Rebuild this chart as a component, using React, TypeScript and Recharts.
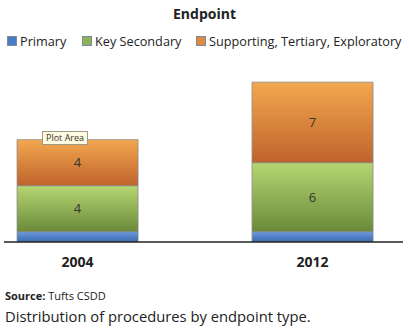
import { BarChart, Bar, XAxis, YAxis, LabelList } from "recharts";

const years = ["2004", "2012"];
const primary = [0.9, 0.9];
const keySecondary = [4, 6];
const supporting = [4, 7];

const seriesNames = ["Primary", "Key Secondary", "Supporting, Tertiary, Exploratory"];
const seriesKeys = ["primary", "keySecondary", "supporting"];
const swatchColors = ["#4a7cc4", "#8fb255", "#e08a3c"];
const legendLeft = [7, 82, 196];

const data = years.map((year, i) => ({
  year,
  pos: i,
  primary: primary[i],
  keySecondary: keySecondary[i],
  supporting: supporting[i],
}));

const font = "'Open Sans', 'Noto Sans', sans-serif";

// legend drawn as plain html so it doesn't eat into the plot height
const ChartLegend = () => (
  <>
    {seriesNames.map((name, i) => (
      <div
        key={seriesKeys[i]}
        style={{
          position: "absolute",
          top: 32,
          left: legendLeft[i],
          display: "flex",
          alignItems: "center",
          whiteSpace: "nowrap",
          fontSize: 12.7,
          color: "#222",
        }}
      >
        <span
          style={{
            width: 10,
            height: 10,
            background: swatchColors[i],
            border: "1px solid #7a8aa0",
            boxSizing: "border-box",
            marginRight: 3,
          }}
        />
        {name}
      </div>
    ))}
  </>
);

const App = () => {
  return (
    <div
      style={{
        position: "absolute",
        left: 0,
        top: 0,
        width: 409,
        height: 334,
        background: "#fff",
        fontFamily: font,
      }}
    >
      <BarChart
        width={409}
        height={334}
        data={data}
        margin={{ top: 81, right: 6, bottom: 62, left: 4 }}
      >
        <defs>
          <linearGradient id="gPrimary" x1="0" y1="0" x2="0" y2="1">
            <stop offset="0%" stopColor="#6a9ae0" />
            <stop offset="100%" stopColor="#3c69ad" />
          </linearGradient>
          <linearGradient id="gKey" x1="0" y1="0" x2="0" y2="1">
            <stop offset="0%" stopColor="#b6d672" />
            <stop offset="100%" stopColor="#6a8a3a" />
          </linearGradient>
          <linearGradient id="gSupp" x1="0" y1="0" x2="0" y2="1">
            <stop offset="0%" stopColor="#f3a84f" />
            <stop offset="100%" stopColor="#bf632c" />
          </linearGradient>
        </defs>
        <XAxis
          dataKey="pos"
          type="number"
          domain={[-0.313, 1.385]}
          ticks={[0, 1]}
          tickFormatter={(v: number) => years[v]}
          tickLine={false}
          tickMargin={9}
          height={30}
          axisLine={{ stroke: "#222", strokeWidth: 1.5 }}
          tick={{ fill: "#222", fontSize: 14, fontWeight: 700 }}
          allowDataOverflow
        />
        <YAxis hide domain={[0, 14]} allowDataOverflow />
        <Bar
          dataKey="primary"
          name={seriesNames[0]}
          stackId="a"
          barSize={121}
          fill="url(#gPrimary)"
          stroke="#8a8a8a"
          strokeWidth={0.8}
          isAnimationActive={false}
        />
        <Bar
          dataKey="keySecondary"
          name={seriesNames[1]}
          stackId="a"
          barSize={121}
          fill="url(#gKey)"
          stroke="#8a8a8a"
          strokeWidth={0.8}
          isAnimationActive={false}
        >
          <LabelList dataKey="keySecondary" position="center" fill="#333" fontSize={13} />
        </Bar>
        <Bar
          dataKey="supporting"
          name={seriesNames[2]}
          stackId="a"
          barSize={121}
          fill="url(#gSupp)"
          stroke="#8a8a8a"
          strokeWidth={0.8}
          isAnimationActive={false}
        >
          <LabelList dataKey="supporting" position="center" fill="#333" fontSize={13} />
        </Bar>
      </BarChart>
      <div
        style={{
          position: "absolute",
          top: 4,
          width: "100%",
          textAlign: "center",
          fontWeight: 700,
          fontSize: 14,
          color: "#222",
        }}
      >
        Endpoint
      </div>
      <ChartLegend />
      <div
        style={{
          position: "absolute",
          left: 42,
          top: 131,
          padding: "0 3px",
          fontSize: 9,
          lineHeight: "12px",
          background: "#fffbe0",
          border: "1px solid #9a9a8a",
          color: "#333",
        }}
      >
        Plot Area
      </div>
      <div style={{ position: "absolute", left: 5, top: 288, fontSize: 11, color: "#222" }}>
        <b>Source:</b> Tufts CSDD
      </div>
      <div style={{ position: "absolute", left: 5, top: 306, fontSize: 14.75, color: "#222" }}>
        Distribution of procedures by endpoint type.
      </div>
    </div>
  );
};

export default App;
